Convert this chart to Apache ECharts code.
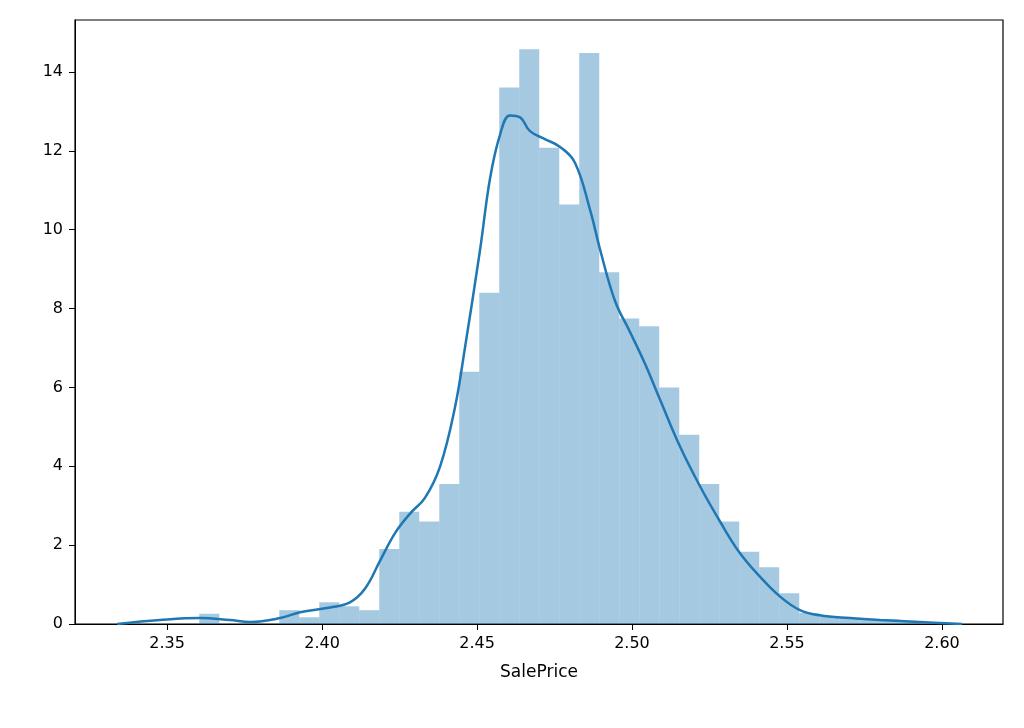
<!DOCTYPE html><html><head><meta charset="utf-8"><script src="https://cdn.jsdelivr.net/npm/echarts@6/dist/echarts.min.js"></script></head><body style="margin:0"><div id="c" style="width:1024px;height:728px"></div><script>
const binStart = 2.3604, binWidth = 0.006452;
const binHeights = [0.26,0,0,0,0.35,0.17,0.55,0.45,0.35,1.9,2.85,2.6,3.55,6.4,8.4,13.61,14.58,12.08,10.64,14.48,8.92,7.75,7.55,6.0,4.8,3.55,2.6,1.83,1.44,0.78,0.28,0.2,0.15,0.1,0.12,0.05];
const kdeX = [2.3339,2.3477,2.3606,2.3703,2.3768,2.3865,2.3929,2.4026,2.4090,2.4139,2.4187,2.4235,2.4284,2.4332,2.4381,2.4429,2.4461,2.4510,2.4542,2.4574,2.4606,2.4639,2.4671,2.4719,2.4768,2.4816,2.4865,2.4897,2.4945,2.4994,2.5042,2.5090,2.5155,2.5219,2.5284,2.5348,2.5413,2.5477,2.5542,2.5606,2.5703,2.5800,2.5929,2.6065];
const kdeY = [0,0.1,0.15,0.1,0.05,0.15,0.3,0.42,0.55,0.9,1.6,2.3,2.8,3.2,4.0,5.5,7,9.5,11.3,12.4,12.9,12.85,12.5,12.3,12.1,11.7,10.5,9.5,8.2,7.4,6.6,5.7,4.5,3.5,2.6,1.8,1.2,0.7,0.35,0.22,0.15,0.1,0.05,0];
const xTicks = [2.35,2.40,2.45,2.50,2.55,2.60];
const yTicks = [0,2,4,6,8,10,12,14];
const bars = binHeights.map((h,i)=>[binStart+i*binWidth, binStart+(i+1)*binWidth, h]);
const font = {fontFamily:'DejaVu Sans', fontSize:16, color:'#000'};
const chart = echarts.init(document.getElementById('c'));
chart.setOption({
  animation:false,
  grid:{left:75,right:21,top:20,bottom:104,show:true,borderColor:'#000',borderWidth:1.2},
  xAxis:{type:'value',min:2.3203,max:2.6197,name:'SalePrice',nameLocation:'middle',nameGap:40,
    nameTextStyle:{fontFamily:'DejaVu Sans',fontSize:17,color:'#000'},
    axisLine:{lineStyle:{color:'#000'}},splitLine:{show:false},
    axisTick:{customValues:xTicks,length:6,lineStyle:{color:'#000'}},
    axisLabel:Object.assign({customValues:xTicks,margin:12,formatter:v=>v.toFixed(2)},font)},
  yAxis:{type:'value',min:0,max:15.32,
    axisLine:{show:true,lineStyle:{color:'#000'}},splitLine:{show:false},
    axisTick:{show:true,customValues:yTicks,length:6,lineStyle:{color:'#000'}},
    axisLabel:Object.assign({customValues:yTicks,margin:12},font)},
  series:[
    {type:'custom',data:bars,renderItem:(p,api)=>{
      const a=api.coord([api.value(0),api.value(2)]), b=api.coord([api.value(1),0]);
      return {type:'rect',shape:{x:a[0],y:a[1],width:b[0]-a[0],height:b[1]-a[1]},style:{fill:'rgba(31,119,180,0.4)'}};
    }},
    {type:'line',data:kdeX.map((x,i)=>[x,kdeY[i]]),smooth:0.4,showSymbol:false,lineStyle:{color:'#1f77b4',width:2.5}}
  ]
});
</script></body></html>
